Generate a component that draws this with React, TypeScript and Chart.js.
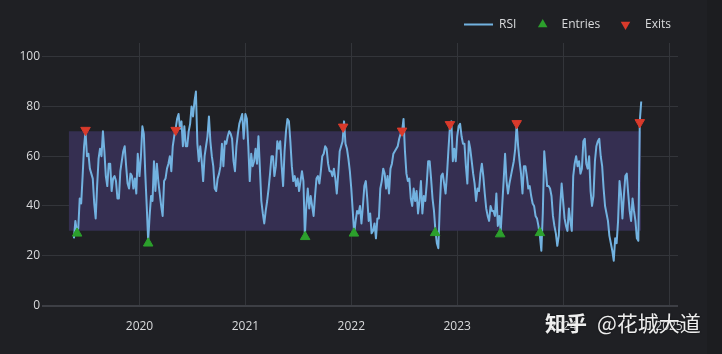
import React, { useEffect, useRef } from "react";
import { Chart, registerables } from "chart.js";

Chart.register(...registerables);

// ---------- data ----------
const seriesNames = ["RSI", "Entries", "Exits"];
const stepDays = 5;

const rsiStart2019 = "2019-05-20";
const rsi2019 = [27, 34, 30, 31, 43, 41, 52, 64, 70, 60, 61, 55, 53, 51, 41, 35, 48, 59, 63, 60, 70, 62, 52, 48, 57, 57, 46, 51, 52, 50, 43, 43, 54, 58, 62, 64, 56, 49, 47, 53, 52, 47, 51, 45, 61];
const rsi2020 = [52, 60, 72, 69, 53, 40, 26, 36, 44, 42, 58, 46, 57, 50, 45, 40, 36, 50, 51, 55, 57, 60, 54, 64, 68, 71, 75, 77, 71, 74, 64, 72, 64, 64, 70, 73, 80, 76, 82, 86, 65, 58, 64, 58, 50, 60, 64, 68, 76, 66, 60, 56, 47, 46, 51, 53, 56, 65, 56, 66, 65, 68, 70, 69, 67, 58, 54, 64, 69, 73, 75, 77, 67];
const rsi2021 = [77, 75, 64, 50, 61, 56, 58, 63, 57, 68, 55, 42, 37, 33, 38, 42, 47, 53, 60, 60, 52, 56, 66, 63, 66, 56, 48, 62, 70, 75, 74, 66, 56, 50, 52, 48, 51, 46, 50, 54, 50, 28, 40, 47, 39, 44, 40, 36, 44, 51, 52, 49, 54, 60, 61, 64, 63, 57, 54, 54, 52, 55, 51, 45, 53, 62, 64, 66, 74, 65, 63, 59, 54];
const rsi2022 = [47, 38, 29, 34, 38, 37, 40, 33, 40, 48, 50, 43, 34, 37, 29, 30, 33, 27, 35, 35, 47, 50, 55, 53, 47, 52, 45, 55, 57, 61, 62, 63, 64, 67, 69, 70, 75, 62, 53, 50, 51, 43, 40, 47, 42, 46, 37, 42, 50, 37, 44, 42, 49, 58, 58, 51, 43, 38, 30, 25, 23, 40, 52, 53, 49, 45, 53, 63, 72, 74, 58, 63, 58];
const rsi2023 = [68, 72, 73, 68, 65, 65, 56, 49, 66, 63, 58, 53, 49, 42, 47, 46, 53, 57, 52, 45, 39, 36, 34, 40, 38, 38, 36, 45, 32, 36, 30, 40, 50, 61, 50, 45, 49, 52, 55, 58, 63, 73, 64, 58, 53, 45, 56, 56, 52, 47, 48, 44, 41, 40, 36, 35, 32, 28, 22, 37, 62, 55, 48, 48, 47, 44, 36, 32, 29, 24, 28, 40, 49];
const rsi2024 = [42, 35, 32, 30, 39, 34, 30, 52, 57, 60, 56, 58, 53, 55, 66, 67, 57, 55, 60, 46, 40, 44, 58, 64, 66, 67, 60, 56, 47, 40, 37, 34, 28, 25, 22, 18, 27, 25, 34, 50, 45, 35, 44, 52, 53, 45, 38, 34, 43, 38, 34, 27, 26, 74, 82];

const entryDates = ["2019-05-31", "2020-01-31", "2021-07-26", "2022-01-10", "2022-10-17", "2023-05-29", "2023-10-13"];
const entryValues = [29, 25, 27.6, 29, 29.2, 28.7, 29.2];
const exitDates = ["2019-06-29", "2020-05-05", "2021-12-04", "2022-06-25", "2022-12-07", "2023-07-25", "2024-09-22"];
const exitValues = [70.5, 70.5, 71.8, 70.2, 72.8, 73.2, 73.6];

const bandStart = "2019-05-02";
const bandEnd = "2024-09-27";
const bandLow = 30;
const bandHigh = 70;

const axisStart = "2019-01-30";
const axisEnd = "2025-02-01";
const yearTicks = [2020, 2021, 2022, 2023, 2024, 2025];
const rsiTicks = [0, 20, 40, 60, 80, 100];
const rsiAxisMax = 105.5;

// ---------- helpers ----------
function parseDate(s: string): Date {
  const [y, m, d] = s.split("-").map(Number);
  return new Date(Date.UTC(y, m - 1, d));
}
function toYear(d: Date): number {
  const y = d.getUTCFullYear();
  const a = Date.UTC(y, 0, 1);
  const b = Date.UTC(y + 1, 0, 1);
  return y + (d.getTime() - a) / (b - a);
}
function yearOf(s: string): number {
  return toYear(parseDate(s));
}

const rsiSegments: { start: string; values: number[] }[] = [
  { start: rsiStart2019, values: rsi2019 },
  { start: "2020-01-01", values: rsi2020 },
  { start: "2021-01-01", values: rsi2021 },
  { start: "2022-01-01", values: rsi2022 },
  { start: "2023-01-01", values: rsi2023 },
  { start: "2024-01-01", values: rsi2024 },
];

const rsiPoints = rsiSegments.flatMap((seg) => {
  const s = parseDate(seg.start).getTime();
  return seg.values.map((v, i) => ({
    x: toYear(new Date(s + i * stepDays * 86400000)),
    y: v,
  }));
});
const entryPoints = entryDates.map((d, i) => ({ x: yearOf(d), y: entryValues[i] }));
const exitPoints = exitDates.map((d, i) => ({ x: yearOf(d), y: exitValues[i] }));
const bandPoints = [
  { x: yearOf(bandStart), y: bandHigh },
  { x: yearOf(bandEnd), y: bandHigh },
];

// ---------- styles ----------
const bg = "#1f2024";
const lineColor = "rgb(114,178,224)";
const bandColor = "#352f51";
const entryColor = "#2ca02c";
const exitColor = "#d93a2b";
const gridColor = "#33353a";
const zeroColor = "#3d3f45";
const textColor = "#d9dadc";
const fontFamily = "'Open Sans', 'DejaVu Sans', sans-serif";

function tri(ctx: CanvasRenderingContext2D, x: number, y: number, r: number, color: string, down: boolean) {
  const s = down ? -1 : 1;
  const w = r * Math.sin(Math.PI / 3);
  ctx.beginPath();
  ctx.moveTo(x, y - s * r);
  ctx.lineTo(x + w, y + s * r / 2);
  ctx.lineTo(x - w, y + s * r / 2);
  ctx.closePath();
  ctx.fillStyle = color;
  ctx.fill();
}

const legendPlugin = {
  id: "topLegend",
  afterDraw(chart: any) {
    const ctx: CanvasRenderingContext2D = chart.ctx;
    ctx.save();
    const y = 25;
    ctx.strokeStyle = lineColor;
    ctx.lineWidth = 2;
    ctx.beginPath();
    ctx.moveTo(464, y - 0.5);
    ctx.lineTo(493, y - 0.5);
    ctx.stroke();
    ctx.font = `12px ${fontFamily}`;
    ctx.textBaseline = "middle";
    ctx.textAlign = "left";
    ctx.fillStyle = textColor;
    ctx.fillText(seriesNames[0], 499, y);
    tri(ctx, 542.7, y - 0.5, 5.5, entryColor, false);
    ctx.fillStyle = textColor;
    ctx.fillText(seriesNames[1], 561.5, y);
    tri(ctx, 625.5, y - 0.5, 5.5, exitColor, true);
    ctx.fillStyle = textColor;
    ctx.fillText(seriesNames[2], 645, y);
    ctx.restore();
  },
};

export default function App() {
  const ref = useRef<HTMLCanvasElement>(null);

  useEffect(() => {
    if (!ref.current) return;
    const chart = new Chart(ref.current, {
      type: "line",
      data: {
        datasets: [
          {
            label: seriesNames[1],
            data: entryPoints,
            showLine: false,
            pointStyle: "triangle",
            pointRadius: 5.5,
            pointBackgroundColor: entryColor,
            pointBorderColor: entryColor,
            pointBorderWidth: 1,
            order: 1,
          } as any,
          {
            label: seriesNames[2],
            data: exitPoints,
            showLine: false,
            pointStyle: "triangle",
            pointRotation: 180,
            pointRadius: 5.5,
            pointBackgroundColor: exitColor,
            pointBorderColor: exitColor,
            pointBorderWidth: 1,
            order: 1,
          } as any,
          {
            label: seriesNames[0],
            data: rsiPoints,
            borderColor: lineColor,
            borderWidth: 2,
            borderJoinStyle: "round",
            pointRadius: 0,
            tension: 0,
            fill: false,
            order: 2,
          } as any,
          {
            label: "band",
            data: bandPoints,
            borderColor: "transparent",
            borderWidth: 0,
            backgroundColor: bandColor,
            pointRadius: 0,
            fill: { value: bandLow },
            order: 5,
          } as any,
        ],
      },
      options: {
        responsive: false,
        animation: false,
        devicePixelRatio: 1,
        layout: { padding: { left: 0, right: 44, top: 43, bottom: 0 } },
        plugins: {
          legend: { display: false },
          tooltip: { enabled: false },
        },
        scales: {
          x: {
            type: "linear",
            min: yearOf(axisStart),
            max: yearOf(axisEnd),
            afterBuildTicks: (s: any) => {
              s.ticks = yearTicks.map((v) => ({ value: v }));
            },
            afterFit: (s: any) => {
              s.height = 48.5;
            },
            grid: { color: gridColor, lineWidth: 1, drawTicks: false },
            border: { display: false },
            ticks: {
              color: textColor,
              font: { family: fontFamily, size: 12 },
              padding: 14,
              maxRotation: 0,
              autoSkip: false,
              callback: (v: any) => String(v),
            },
          },
          y: {
            type: "linear",
            min: 0,
            max: rsiAxisMax,
            afterBuildTicks: (s: any) => {
              s.ticks = rsiTicks.map((v) => ({ value: v }));
            },
            afterFit: (s: any) => {
              s.width = 42;
            },
            grid: {
              color: (c: any) => (c.tick && c.tick.value === 0 ? zeroColor : gridColor),
              lineWidth: (c: any) => (c.tick && c.tick.value === 0 ? 2 : 1),
              drawTicks: false,
            },
            border: { display: false },
            ticks: {
              color: textColor,
              font: { family: fontFamily, size: 12 },
              padding: 2,
              autoSkip: false,
              callback: (v: any) => String(v),
            },
          },
        },
      } as any,
      plugins: [legendPlugin],
    });
    return () => chart.destroy();
  }, []);

  return (
    <div style={{ position: "relative", width: 722, height: 354, background: bg, overflow: "hidden" }}>
      <style>{`body{margin:0;background:${bg};}`}</style>
      <canvas ref={ref} width={722} height={354} style={{ display: "block", width: 722, height: 354 }} />
      <div style={{ position: "absolute", left: 707, top: 0, width: 15, height: 354, background: "#1c1d20" }} />
      <div
        style={{
          position: "absolute",
          left: 545,
          top: 308,
          fontFamily: "'Noto Sans CJK SC', sans-serif",
          fontSize: 21,
          lineHeight: "28px",
          color: "rgba(255,255,255,0.93)",
          whiteSpace: "nowrap",
          textShadow: "0 0 2px rgba(0,0,0,0.6)",
        }}
      >
        <span style={{ fontWeight: 600 }}>知乎</span>
        <span style={{ marginLeft: 10 }}>@花城大道</span>
      </div>
    </div>
  );
}
